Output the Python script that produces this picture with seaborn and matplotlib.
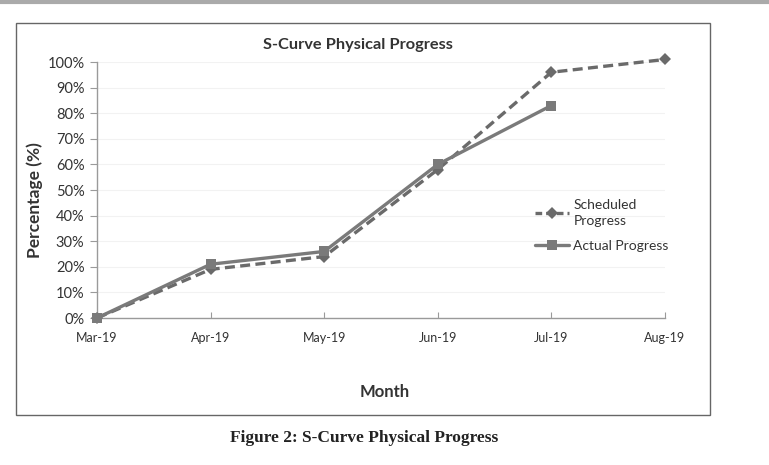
import numpy as np
import pandas as pd
import matplotlib
matplotlib.use("Agg")
import matplotlib.pyplot as plt
from matplotlib.patches import Rectangle
from matplotlib.lines import Line2D
from matplotlib.ticker import PercentFormatter
import seaborn as sns

months = ["Mar-19", "Apr-19", "May-19", "Jun-19", "Jul-19", "Aug-19"]
scheduled = [0, 19, 24, 58, 96, 101]
actual = [0, 21, 26, 60, 83, np.nan]

df = pd.DataFrame({
    "idx": list(range(len(months))) * 2,
    "Month": months * 2,
    "value": scheduled + actual,
    "series": ["Scheduled\nProgress"] * len(months) + ["Actual Progress"] * len(months),
})

sns.set_style("white")
plt.rcParams["font.family"] = ["Lato", "DejaVu Sans"]

fig = plt.figure(figsize=(7.69, 4.65), dpi=100)
ax = fig.add_axes([97 / 769, 1 - 318 / 465, (665 - 97) / 769, (318 - 62) / 465])

sns.lineplot(data=df, x="idx", y="value", hue="series", style="series",
             palette={"Scheduled\nProgress": "#6a6a6a", "Actual Progress": "#7a7a7a"},
             markers={"Scheduled\nProgress": "D", "Actual Progress": "s"},
             dashes={"Scheduled\nProgress": (3, 1.6), "Actual Progress": ""},
             linewidth=2.4, markersize=7.5, markeredgewidth=0, sort=False, ax=ax)
for ln in ax.lines:
    ln.set_clip_on(False)
    if ln.get_marker() == "D":
        ln.set_markersize(6.5)
        ln.set_zorder(3)
    else:
        ln.set_zorder(4)

ax.set_xlim(0, len(months) - 1)
ax.set_ylim(0, 100)
ax.set_yticks(range(0, 101, 10))
ax.yaxis.set_major_formatter(PercentFormatter(100, decimals=0))
ax.set_xticks(range(len(months)))
ax.set_xticklabels(months)
ax.grid(axis="y", color="#f2f2f2", lw=0.8)
for s in ["top", "right"]:
    ax.spines[s].set_visible(False)
for s in ["left", "bottom"]:
    ax.spines[s].set_color("#9a9a9a")
    ax.spines[s].set_linewidth(1)
ax.tick_params(axis="y", left=True, length=5, color="#9a9a9a", labelsize=10.5, labelcolor="#333333", pad=4)
ax.tick_params(axis="x", bottom=True, direction="in", length=4, color="#9a9a9a", labelsize=9, labelcolor="#333333", pad=10)
ax.set_xlabel("")
ax.set_ylabel("")

handles = [
    Line2D([], [], color="#6a6a6a", lw=2.4, ls=(0, (2, 1.2)), marker="D", markersize=6.5, markeredgewidth=0),
    Line2D([], [], color="#7a7a7a", lw=2.4, marker="s", markersize=7.5, markeredgewidth=0),
]
leg = ax.legend(handles, ["Scheduled\nProgress", "Actual Progress"], loc="upper left",
                bbox_to_anchor=(522 / 769, 1 - 186 / 465), bbox_transform=fig.transFigure,
                frameon=False, fontsize=10, handlelength=2.5, handletextpad=0.3,
                labelspacing=0.9, labelcolor="#333333")
for t in leg.get_texts():
    t.set_linespacing(1.45)

fig.text(358 / 769, 1 - 45 / 465, "S-Curve Physical Progress", ha="center", va="center",
         fontsize=11.8, fontweight="bold", color="#333333")
fig.text(35 / 769, 1 - 200 / 465, "Percentage (%)", rotation=90, ha="center", va="center",
         fontsize=12.5, fontweight="bold", color="#333333")
fig.text(385 / 769, 1 - 392 / 465, "Month", ha="center", va="center",
         fontsize=12, fontweight="bold", color="#333333")
fig.text(364 / 769, 1 - 438 / 465, "Figure 2: S-Curve Physical Progress", ha="center", va="center",
         fontsize=12.5, fontweight="bold", color="#222222", family=["Liberation Serif", "DejaVu Serif"])

fig.patches.append(Rectangle((16 / 769, 1 - 415 / 465), (710 - 16) / 769, (415 - 23) / 465,
                             transform=fig.transFigure, fill=False, edgecolor="#666666", lw=1))
fig.lines.append(Line2D([0, 1], [1 - 2 / 465, 1 - 2 / 465], transform=fig.transFigure,
                        color="#aaaaaa", lw=3))

fig.savefig("out.png", dpi=100)
